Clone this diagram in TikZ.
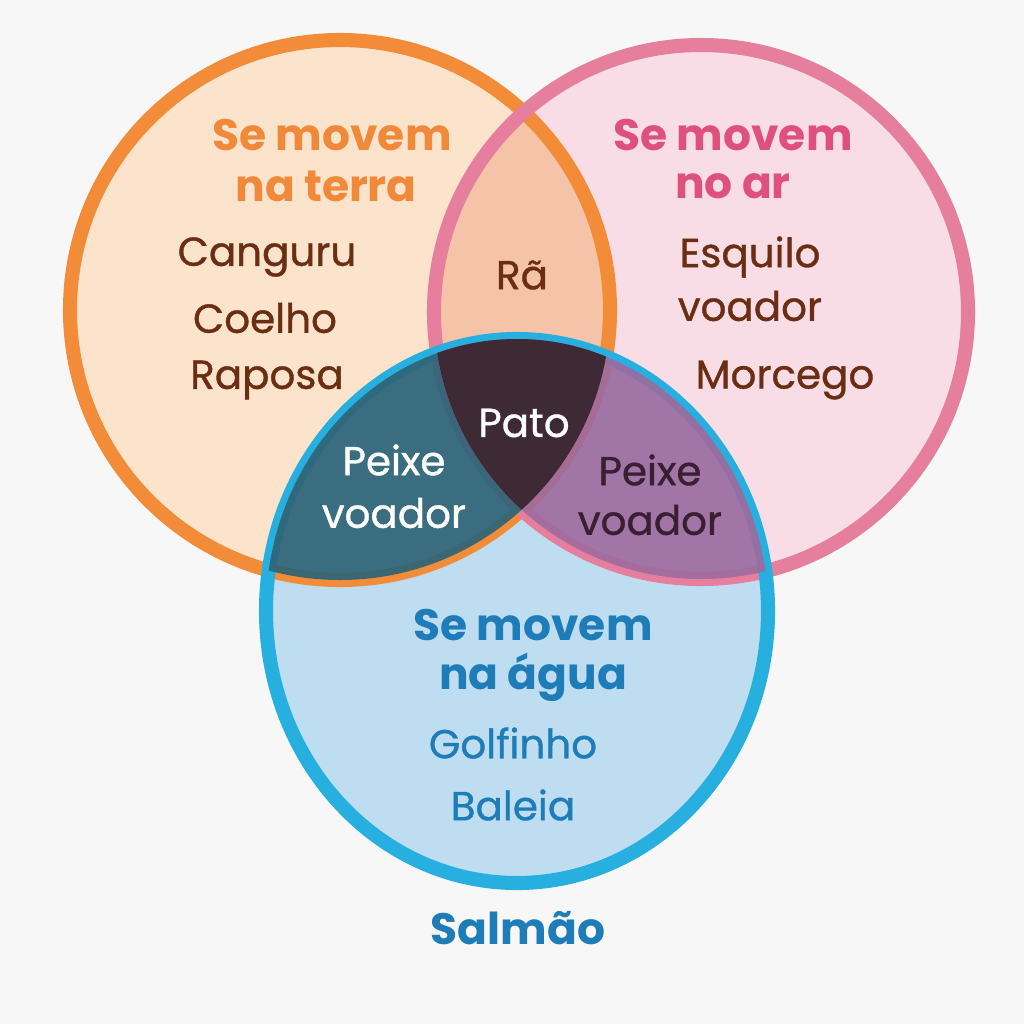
\documentclass[tikz,border=0pt]{standalone}
\usepackage{fontspec}
\setmainfont{Poppins}
\newfontfamily\medfont[FakeBold=0.9]{Poppins}
\begin{document}
\begin{tikzpicture}[x=0.01cm,y=-0.01cm,
 lbl/.style={font=\fontsize{12.5}{14}\selectfont\bfseries, align=center, inner sep=0pt},
 itm/.style={font=\medfont\fontsize{11.5}{14}\selectfont, align=center, inner sep=0pt}]
\definecolor{bg}{HTML}{F7F7F7}
\definecolor{oF}{HTML}{FCE3CC}\definecolor{pF}{HTML}{F8DCE6}\definecolor{bF}{HTML}{BEDDF0}
\definecolor{opF}{HTML}{F5C4A8}\definecolor{obF}{HTML}{2F6577}\definecolor{pbF}{HTML}{9E6A9E}\definecolor{allF}{HTML}{3E2A35}
\definecolor{oS}{HTML}{F28C38}\definecolor{pS}{HTML}{E67F9E}\definecolor{bS}{HTML}{27B0DF}
\definecolor{oT}{HTML}{F08A3A}\definecolor{pT}{HTML}{E0507F}\definecolor{bT}{HTML}{1E7DB8}
\definecolor{brn}{HTML}{6B2E12}\definecolor{dk}{HTML}{3A1F33}
\fill[bg] (0,0) rectangle (1024,1024);
\def\OC{(340,310) circle[radius=270]}
\def\PC{(701,312) circle[radius=267]}
\def\BC{(517,611) ellipse[x radius=251,y radius=272]}
\fill[oF] \OC; \fill[pF] \PC; \fill[bF] \BC;
\begin{scope}\clip \OC; \fill[opF] \PC; \end{scope}
\draw[oS,line width=4pt] \OC;
\draw[pS,line width=4pt] \PC;
\draw[bS,line width=4pt] \BC;
\begin{scope}\clip \OC; \fill[obF,opacity=0.93] \BC; \end{scope}
\begin{scope}\clip \PC; \fill[pbF,opacity=0.9] \BC; \end{scope}
\begin{scope}\clip \OC; \clip \PC; \fill[allF] \BC; \end{scope}
\node[lbl,text=oT] (ot1) at (332,135) {Se movem};
\node[lbl,text=oT] (ot2) at (326,186) {na terra};
\node[itm,text=brn] (c1) at (267,257) {Canguru};
\node[itm,text=brn] (c2) at (265,318) {Coelho};
\node[itm,text=brn] (c3) at (267,380) {Raposa};
\node[itm,text=brn] (ra) at (522,275) {Rã};
\node[lbl,text=pT] (pt1) at (733,135) {Se movem};
\node[lbl,text=pT] (pt2) at (733,186) {no ar};
\node[itm,text=brn] (e1) at (750,257) {Esquilo};
\node[itm,text=brn] (e2) at (750,306) {voador};
\node[itm,text=brn] (mo) at (785,380) {Morcego};
\node[itm,text=white] (pa) at (524,423) {Pato};
\node[itm,text=white] (l1) at (394,460) {Peixe};
\node[itm,text=white] (l2) at (394,513) {voador};
\node[itm,text=dk] (r1) at (650,470) {Peixe};
\node[itm,text=dk] (r2) at (650,520) {voador};
\node[lbl,text=bT] (bt1) at (533,625) {Se movem};
\node[lbl,text=bT] (bt2) at (533,677) {na água};
\node[itm,text=bT] (g) at (513,743) {Golfinho};
\node[itm,text=bT] (b) at (513,805) {Baleia};
\node[lbl,text=bT] (s) at (518,928) {Salmão};
\end{tikzpicture}
\end{document}
